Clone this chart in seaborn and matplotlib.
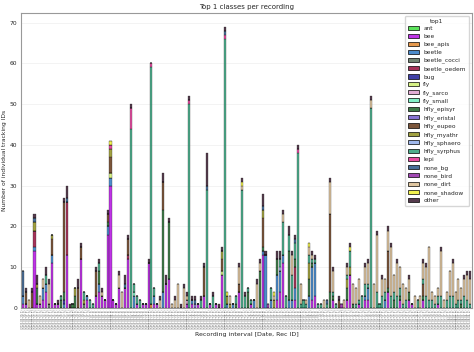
import numpy as np
import pandas as pd
import matplotlib
matplotlib.use("Agg")
import matplotlib.pyplot as plt
import seaborn as sns

# recordings (x axis) - tick labels are unreadable in the reference, so generic ones
rec_dates = list(pd.date_range("2023-05-20", periods=77, freq="D").strftime("%Y-%m-%d"))
recordings = [f"({d}, {r})" for d in rec_dates for r in (1, 2)]

classes = ["ant", "bee", "bee_apis", "beetle", "beetle_cocci", "beetle_oedem", "bug",
           "fly", "fly_sarco", "fly_small", "hfly_episyr", "hfly_eristal", "hfly_eupeo",
           "hfly_myathr", "hfly_sphaero", "hfly_syrphus", "lepi", "none_bg", "none_bird",
           "none_dirt", "none_shadow", "other"]

colors = ["#33dd33", "#b000e0", "#e08020", "#2070c0", "#506850", "#900030", "#101090",
          "#ccee66", "#dd99cc", "#66eebb", "#0d5a1a", "#6a50c8", "#5a2a08",
          "#8a8a10", "#88a8e8", "#209a70", "#e0208a", "#1a4a80", "#8a1aa0",
          "#d8b888", "#eeee22", "#2a0a20"]

# counts per recording, one list per class (154 recordings)
ant = [0] * 154
bee = [1, 1, 0, 0, 14, 1, 1, 2, 4, 0, 11, 1, 1, 0, 0, 13, 0, 0, 0, 0, 12, 0, 2, 0, 0, 3, 4, 3, 2, 18, 30, 2, 1, 5, 0, 5, 12, 0, 0, 1,
       0, 1, 1, 11, 0, 1, 1, 0, 0, 6, 7, 0, 0, 0, 0, 0, 1, 0, 1, 0, 1, 0, 3, 0, 1, 0, 1, 0, 8, 0, 0, 0, 0, 0, 4, 0, 0, 0, 1, 0,
       0, 0, 13, 0, 0, 0, 0, 2, 4, 11, 0, 0, 0, 2, 0, 0, 0, 0, 0, 2, 3, 0, 0, 0, 0, 0, 2, 0, 0, 0, 0, 2, 8, 0, 0, 1, 0, 2, 2, 0,
       0, 0, 0, 0, 0, 4, 0, 0, 0, 2, 0, 0, 2, 1, 0, 0, 0, 2, 0, 0, 0, 0, 1, 0, 0, 0, 0, 0, 0, 0, 0, 0, 0, 0]
bee_apis = [0, 0, 0, 0, 0, 0, 0, 0, 0, 0, 0, 0, 0, 0, 0, 0, 0, 0, 0, 0, 0, 0, 0, 0, 0, 0, 0, 0, 0, 0, 0, 0, 0, 0, 0, 0, 0, 0, 0, 0,
            0, 0, 0, 0, 1, 0, 0, 0, 0, 0, 0, 0, 0, 0, 0, 0, 0, 0, 0, 0, 0, 0, 0, 0, 0, 0, 0, 0, 0, 0, 0, 0, 0, 0, 0, 0, 0, 0, 0, 0,
            0, 0, 0, 0, 0, 0, 0, 0, 0, 0, 0, 0, 0, 0, 0, 0, 0, 0, 0, 0, 0, 0, 0, 0, 0, 0, 0, 0, 0, 0, 0, 0, 0, 0, 0, 0, 0, 0, 0, 0,
            0, 0, 0, 0, 0, 0, 0, 0, 0, 0, 0, 0, 0, 0, 0, 0, 0, 0, 0, 0, 0, 0, 0, 0, 0, 0, 0, 0, 0, 0, 0, 0, 0, 0]
beetle = [2, 0, 0, 0, 1, 0, 0, 3, 2, 0, 2, 0, 0, 0, 1, 0, 0, 0, 0, 0, 0, 0, 1, 0, 0, 0, 2, 0, 0, 2, 2, 0, 0, 0, 0, 0, 0, 0, 3, 0,
          0, 0, 0, 0, 0, 2, 0, 0, 4, 0, 0, 0, 0, 0, 0, 0, 0, 0, 1, 0, 0, 0, 0, 0, 0, 0, 0, 0, 0, 0, 1, 0, 1, 0, 0, 0, 0, 0, 0, 2,
          0, 0, 1, 13, 0, 2, 0, 6, 5, 2, 0, 2, 2, 3, 0, 0, 0, 0, 3, 8, 8, 0, 0, 0, 0, 0, 0, 0, 0, 0, 0, 0, 0, 0, 0, 0, 0, 1, 3, 0,
          0, 0, 0, 0, 2, 0, 0, 0, 0, 0, 0, 0, 0, 0, 0, 0, 0, 0, 0, 0, 0, 0, 0, 0, 0, 0, 0, 0, 0, 0, 0, 0, 0, 0]
beetle_cocci = [0, 0, 0, 0, 0, 0, 0, 0, 0, 1, 0, 0, 0, 0, 0, 0, 0, 0, 0, 0, 0, 1, 0, 0, 0, 0, 0, 0, 0, 0, 0, 0, 0, 0, 0, 0, 0, 0, 0, 0,
                0, 0, 0, 0, 0, 0, 0, 0, 0, 0, 0, 0, 0, 0, 0, 0, 0, 0, 0, 0, 0, 0, 0, 0, 0, 0, 0, 0, 0, 0, 0, 0, 0, 0, 0, 0, 0, 0, 0, 0,
                0, 0, 0, 0, 0, 0, 0, 0, 0, 0, 0, 0, 0, 0, 0, 0, 0, 0, 0, 0, 0, 0, 0, 0, 0, 0, 0, 0, 0, 0, 0, 0, 0, 0, 0, 0, 0, 0, 0, 0,
                0, 0, 0, 0, 0, 0, 0, 0, 0, 0, 0, 0, 0, 0, 0, 0, 0, 0, 0, 0, 0, 0, 0, 0, 0, 0, 0, 0, 0, 0, 0, 0, 0, 0]
beetle_oedem = [0, 0, 0, 0, 4, 0, 0, 0, 0, 0, 0, 0, 0, 0, 0, 13, 0, 0, 0, 0, 0, 0, 0, 0, 0, 0, 0, 0, 0, 0, 0, 0, 0, 0, 0, 0, 1, 0, 0, 0,
                0, 0, 0, 0, 0, 0, 0, 0, 0, 0, 0, 0, 0, 0, 0, 0, 0, 0, 0, 0, 0, 0, 0, 0, 0, 0, 0, 0, 0, 0, 0, 0, 0, 0, 0, 0, 0, 0, 0, 0,
                0, 0, 0, 0, 0, 0, 0, 0, 0, 0, 0, 0, 0, 5, 0, 0, 0, 0, 0, 0, 0, 0, 0, 0, 0, 0, 0, 0, 0, 0, 0, 0, 0, 0, 0, 0, 0, 0, 0, 0,
                0, 0, 0, 0, 0, 0, 0, 0, 0, 0, 0, 0, 0, 0, 0, 0, 0, 0, 0, 0, 0, 0, 0, 0, 0, 0, 0, 0, 0, 0, 0, 0, 0, 0]
bug = [0, 0, 0, 0, 0, 0, 0, 0, 0, 0, 0, 0, 0, 0, 1, 0, 0, 0, 0, 0, 0, 0, 0, 0, 0, 0, 0, 0, 0, 0, 0, 0, 0, 0, 0, 0, 0, 0, 0, 0,
       0, 0, 0, 0, 0, 0, 0, 0, 0, 0, 0, 0, 0, 0, 0, 0, 0, 0, 0, 0, 0, 0, 0, 0, 0, 0, 0, 0, 0, 0, 0, 0, 0, 0, 0, 0, 0, 0, 0, 0,
       0, 0, 0, 0, 0, 0, 0, 0, 0, 0, 0, 0, 0, 0, 0, 0, 0, 0, 0, 0, 0, 0, 0, 0, 0, 0, 0, 0, 0, 0, 0, 0, 0, 0, 0, 0, 0, 0, 0, 0,
       0, 0, 0, 0, 0, 0, 0, 0, 0, 0, 0, 0, 0, 0, 0, 0, 0, 0, 0, 0, 0, 0, 0, 0, 0, 0, 0, 0, 0, 0, 0, 0, 0, 0]
fly = [0, 0, 0, 0, 0, 0, 0, 0, 0, 0, 0, 0, 0, 0, 0, 0, 0, 0, 0, 0, 0, 0, 0, 0, 0, 0, 0, 0, 0, 0, 1, 0, 0, 0, 0, 0, 0, 0, 0, 0,
       0, 0, 0, 0, 0, 0, 0, 0, 0, 0, 0, 0, 0, 0, 0, 0, 0, 0, 0, 0, 0, 0, 0, 0, 0, 0, 0, 0, 1, 0, 0, 0, 0, 0, 0, 0, 0, 0, 0, 0,
       0, 0, 0, 0, 0, 0, 0, 0, 0, 0, 0, 0, 0, 0, 0, 0, 0, 0, 0, 0, 0, 0, 0, 0, 0, 0, 0, 0, 0, 0, 0, 0, 0, 0, 0, 0, 0, 0, 0, 0,
       0, 0, 0, 0, 0, 0, 0, 0, 0, 0, 0, 0, 0, 0, 0, 0, 0, 0, 0, 0, 0, 0, 0, 0, 0, 0, 0, 0, 0, 0, 0, 0, 0, 0]
fly_sarco = [0, 0, 0, 0, 0, 0, 0, 0, 0, 0, 0, 0, 0, 0, 0, 0, 0, 0, 0, 0, 0, 0, 0, 0, 0, 0, 0, 0, 0, 0, 0, 0, 0, 0, 0, 0, 0, 0, 0, 0,
             0, 0, 0, 0, 0, 0, 0, 0, 0, 0, 0, 0, 0, 0, 0, 0, 1, 0, 0, 0, 0, 0, 0, 0, 0, 0, 0, 0, 0, 0, 0, 0, 0, 0, 0, 0, 0, 0, 0, 0,
             0, 0, 0, 0, 0, 0, 0, 0, 0, 0, 0, 0, 0, 0, 0, 0, 0, 0, 0, 0, 0, 0, 0, 0, 0, 0, 0, 0, 0, 0, 0, 0, 0, 0, 0, 0, 0, 0, 0, 0,
             0, 0, 0, 0, 0, 0, 0, 0, 0, 0, 0, 0, 0, 0, 0, 0, 0, 0, 0, 0, 0, 0, 0, 0, 0, 0, 0, 0, 0, 0, 0, 0, 0, 0]
fly_small = [0, 0, 0, 0, 0, 0, 0, 0, 0, 0, 0, 0, 0, 0, 0, 0, 0, 0, 0, 0, 0, 0, 0, 0, 0, 0, 0, 0, 0, 0, 0, 0, 0, 0, 0, 0, 0, 0, 1, 0,
             0, 0, 0, 0, 0, 0, 0, 0, 0, 0, 0, 0, 0, 0, 0, 0, 0, 0, 0, 0, 0, 0, 0, 0, 0, 0, 0, 0, 0, 0, 0, 0, 0, 0, 0, 0, 0, 0, 0, 0,
             0, 0, 0, 0, 0, 0, 0, 0, 0, 0, 0, 0, 0, 0, 0, 0, 0, 0, 0, 0, 0, 0, 0, 0, 0, 0, 0, 0, 0, 0, 0, 0, 0, 0, 0, 0, 0, 0, 0, 0,
             0, 0, 0, 0, 0, 0, 0, 0, 0, 0, 0, 0, 0, 0, 0, 0, 0, 0, 0, 0, 0, 0, 0, 0, 0, 0, 0, 0, 0, 0, 0, 0, 0, 0]
hfly_episyr = [0, 0, 0, 0, 0, 4, 0, 0, 0, 0, 0, 0, 0, 2, 2, 0, 0, 1, 3, 0, 0, 0, 0, 0, 0, 0, 3, 0, 0, 1, 0, 0, 0, 0, 0, 0, 0, 0, 0, 0,
               0, 0, 0, 0, 0, 0, 0, 0, 20, 0, 14, 0, 0, 0, 0, 0, 0, 0, 0, 0, 0, 0, 0, 0, 0, 0, 0, 0, 0, 0, 0, 0, 0, 1, 0, 0, 0, 4, 0, 0,
               0, 9, 1, 0, 0, 0, 0, 4, 0, 0, 0, 12, 0, 2, 0, 0, 0, 0, 4, 1, 0, 0, 0, 0, 0, 4, 1, 0, 0, 0, 0, 3, 0, 1, 0, 0, 0, 0, 0, 0,
               0, 0, 0, 0, 0, 1, 0, 2, 0, 1, 0, 0, 2, 0, 0, 0, 0, 1, 0, 0, 0, 0, 0, 0, 0, 0, 0, 0, 0, 0, 1, 0, 0, 0]
hfly_eristal = [0, 0, 0, 0, 0, 0, 0, 0, 0, 0, 0, 0, 0, 0, 0, 0, 0, 0, 0, 0, 0, 0, 0, 0, 0, 0, 0, 0, 0, 0, 0, 0, 0, 0, 0, 0, 0, 0, 0, 0,
                0, 0, 0, 0, 0, 0, 0, 0, 0, 0, 0, 0, 0, 0, 0, 0, 0, 0, 0, 1, 0, 0, 0, 0, 0, 0, 0, 0, 0, 0, 0, 0, 0, 0, 0, 0, 0, 0, 0, 0,
                0, 0, 0, 0, 0, 0, 0, 0, 0, 0, 0, 0, 0, 0, 0, 0, 0, 0, 0, 0, 0, 0, 0, 0, 0, 0, 0, 0, 0, 0, 0, 0, 0, 0, 0, 0, 0, 0, 0, 0,
                0, 0, 0, 0, 0, 0, 0, 0, 0, 0, 0, 0, 0, 0, 0, 0, 0, 0, 0, 0, 0, 0, 0, 0, 0, 0, 0, 0, 0, 0, 0, 0, 0, 0]
hfly_eupeo = [0, 3, 0, 4, 0, 0, 0, 0, 0, 0, 4, 0, 0, 0, 22, 0, 0, 0, 0, 5, 3, 0, 0, 0, 0, 6, 0, 0, 0, 2, 4, 0, 0, 0, 0, 0, 4, 0, 0, 0,
              0, 0, 0, 0, 0, 0, 0, 0, 7, 0, 0, 0, 0, 0, 0, 0, 0, 0, 0, 0, 0, 0, 7, 0, 0, 0, 0, 0, 3, 0, 0, 0, 0, 0, 2, 0, 0, 0, 0, 0,
              0, 0, 7, 0, 0, 0, 0, 0, 0, 0, 0, 0, 0, 0, 0, 0, 0, 0, 0, 0, 0, 0, 0, 0, 0, 19, 0, 0, 2, 0, 0, 0, 0, 0, 0, 0, 0, 0, 0, 0,
              0, 0, 0, 0, 0, 9, 0, 0, 0, 0, 0, 0, 0, 0, 0, 0, 0, 3, 0, 0, 0, 0, 0, 0, 0, 0, 0, 0, 0, 0, 0, 0, 0, 0]
hfly_myathr = [0, 0, 0, 0, 2, 1, 0, 0, 0, 0, 1, 0, 0, 0, 0, 0, 0, 0, 2, 0, 0, 1, 0, 0, 0, 0, 0, 0, 0, 0, 2, 0, 0, 0, 0, 0, 0, 0, 0, 0,
               0, 0, 0, 0, 0, 0, 0, 0, 0, 0, 0, 0, 0, 0, 0, 0, 0, 0, 0, 0, 0, 0, 0, 0, 0, 0, 0, 0, 2, 0, 2, 1, 0, 0, 0, 0, 0, 0, 0, 0,
               0, 0, 2, 0, 0, 0, 2, 0, 0, 0, 0, 0, 0, 0, 0, 0, 0, 0, 4, 0, 0, 0, 0, 0, 0, 0, 0, 0, 0, 0, 0, 2, 2, 0, 0, 0, 0, 0, 0, 0,
               0, 0, 0, 0, 0, 0, 0, 0, 0, 0, 0, 0, 0, 0, 0, 0, 0, 0, 0, 0, 0, 0, 0, 0, 0, 0, 0, 0, 0, 0, 0, 0, 0, 0]
hfly_sphaero = [0, 0, 0, 0, 0, 0, 0, 0, 0, 0, 0, 0, 0, 0, 0, 0, 0, 0, 0, 0, 0, 0, 0, 0, 0, 0, 0, 0, 0, 0, 0, 0, 0, 0, 0, 0, 0, 0, 0, 0,
                0, 0, 0, 0, 0, 0, 0, 0, 0, 0, 0, 0, 0, 0, 0, 0, 0, 0, 0, 0, 0, 0, 0, 0, 0, 0, 0, 0, 0, 0, 0, 0, 0, 0, 0, 0, 0, 0, 0, 0,
                0, 0, 0, 0, 0, 0, 0, 0, 1, 0, 0, 0, 0, 0, 0, 0, 0, 0, 0, 0, 0, 0, 0, 0, 0, 0, 0, 0, 0, 0, 0, 0, 0, 0, 0, 0, 0, 0, 0, 0,
                0, 0, 0, 0, 0, 0, 0, 0, 0, 0, 0, 0, 0, 0, 0, 0, 0, 0, 0, 0, 0, 0, 0, 0, 0, 0, 0, 0, 0, 0, 0, 0, 0, 0]
hfly_syrphus = [0, 0, 0, 0, 0, 0, 0, 0, 2, 0, 0, 0, 0, 1, 0, 0, 0, 0, 0, 0, 0, 2, 0, 2, 1, 0, 2, 0, 0, 0, 0, 0, 0, 0, 0, 0, 0, 44, 2, 2,
                2, 0, 0, 0, 58, 2, 0, 0, 0, 0, 0, 0, 0, 0, 0, 0, 0, 50, 0, 0, 0, 2, 0, 29, 0, 3, 0, 0, 0, 66, 0, 0, 0, 2, 0, 29, 3, 1, 1, 0,
                0, 0, 0, 0, 0, 3, 0, 0, 2, 8, 3, 4, 6, 4, 38, 1, 2, 1, 2, 1, 1, 1, 1, 0, 1, 0, 1, 1, 0, 0, 0, 1, 4, 0, 1, 1, 3, 3, 1, 49,
                0, 4, 1, 3, 2, 0, 3, 2, 3, 2, 1, 2, 0, 0, 0, 2, 0, 1, 3, 2, 2, 1, 2, 3, 0, 2, 3, 3, 1, 2, 1, 3, 2, 1]
lepi = [0, 0, 0, 0, 0, 0, 0, 0, 0, 0, 0, 0, 0, 0, 0, 0, 0, 0, 0, 0, 0, 0, 0, 0, 0, 0, 0, 0, 0, 0, 1, 0, 0, 0, 0, 0, 0, 5, 0, 0,
        0, 0, 0, 0, 1, 0, 0, 0, 0, 0, 0, 0, 0, 0, 0, 0, 0, 1, 0, 0, 0, 0, 0, 0, 0, 0, 0, 0, 0, 1, 0, 0, 0, 0, 0, 0, 0, 0, 0, 0,
        0, 0, 0, 0, 0, 0, 0, 0, 0, 0, 0, 0, 0, 0, 1, 0, 0, 0, 0, 0, 0, 0, 0, 0, 0, 0, 0, 0, 0, 0, 0, 0, 0, 0, 0, 0, 0, 0, 0, 0,
        0, 0, 0, 0, 0, 0, 0, 0, 0, 0, 0, 0, 0, 0, 0, 0, 0, 0, 0, 0, 0, 0, 0, 0, 0, 0, 0, 0, 0, 0, 0, 0, 0, 0]
none_bg = [6, 0, 0, 0, 1, 0, 0, 0, 0, 0, 0, 0, 0, 0, 0, 1, 0, 0, 0, 0, 0, 0, 0, 0, 0, 0, 0, 0, 0, 0, 0, 0, 0, 0, 0, 1, 0, 0, 0, 0,
           0, 0, 0, 0, 0, 0, 0, 0, 0, 0, 0, 0, 0, 0, 0, 0, 0, 0, 0, 1, 0, 0, 0, 1, 0, 0, 0, 0, 0, 1, 0, 0, 0, 0, 0, 0, 0, 0, 0, 0,
           0, 0, 1, 0, 0, 0, 0, 0, 0, 0, 0, 0, 0, 1, 0, 0, 0, 0, 0, 0, 0, 0, 0, 0, 1, 0, 0, 0, 0, 0, 0, 0, 0, 0, 0, 0, 0, 0, 0, 0,
           0, 0, 0, 0, 0, 0, 0, 0, 0, 0, 0, 0, 0, 0, 0, 0, 0, 0, 0, 0, 0, 0, 0, 0, 0, 0, 0, 0, 0, 0, 0, 0, 0, 0]
none_bird = [0, 0, 0, 0, 0, 0, 0, 0, 0, 0, 0, 0, 0, 0, 0, 0, 0, 0, 0, 0, 0, 0, 0, 0, 0, 0, 0, 0, 0, 0, 0, 0, 0, 0, 0, 0, 0, 0, 0, 0,
             0, 0, 0, 0, 0, 0, 0, 0, 0, 0, 0, 0, 0, 0, 0, 0, 0, 0, 0, 0, 0, 0, 0, 0, 0, 0, 0, 0, 0, 0, 0, 0, 0, 0, 0, 0, 0, 0, 0, 0,
             0, 0, 0, 0, 1, 0, 0, 0, 0, 0, 0, 0, 0, 0, 0, 0, 0, 0, 0, 0, 0, 0, 0, 0, 0, 0, 0, 0, 0, 1, 0, 0, 0, 0, 0, 0, 0, 0, 0, 0,
             0, 0, 0, 0, 0, 0, 0, 0, 0, 0, 0, 0, 0, 0, 0, 0, 0, 0, 0, 0, 0, 0, 0, 0, 0, 0, 0, 0, 0, 0, 0, 0, 0, 0]
none_dirt = [0, 0, 2, 0, 0, 0, 2, 2, 0, 5, 0, 0, 0, 0, 0, 0, 0, 0, 0, 0, 0, 0, 0, 0, 0, 0, 0, 1, 0, 0, 0, 0, 0, 3, 4, 0, 0, 0, 0, 0,
             0, 0, 0, 0, 0, 0, 0, 2, 0, 0, 0, 1, 2, 6, 0, 5, 1, 0, 0, 0, 0, 0, 0, 0, 0, 0, 0, 0, 0, 0, 0, 2, 0, 0, 4, 1, 0, 0, 0, 0,
             6, 2, 0, 0, 0, 0, 1, 0, 0, 2, 0, 0, 5, 0, 0, 5, 0, 1, 2, 1, 0, 0, 0, 2, 0, 8, 5, 0, 0, 0, 2, 2, 0, 5, 4, 5, 0, 4, 5, 2,
             6, 14, 0, 4, 3, 5, 12, 4, 8, 5, 5, 3, 3, 0, 3, 0, 3, 4, 7, 13, 2, 2, 2, 11, 2, 2, 6, 8, 3, 5, 3, 4, 6, 6]
none_shadow = [0, 0, 0, 0, 0, 0, 0, 0, 0, 0, 0, 0, 0, 0, 0, 0, 0, 0, 0, 0, 0, 0, 0, 0, 0, 0, 0, 0, 0, 0, 1, 0, 0, 0, 0, 0, 0, 0, 0, 0,
               0, 0, 0, 0, 0, 0, 0, 0, 0, 0, 0, 0, 0, 0, 0, 0, 0, 0, 0, 0, 0, 0, 0, 0, 0, 0, 0, 0, 0, 0, 1, 0, 0, 0, 0, 1, 0, 0, 0, 0,
               0, 0, 0, 0, 0, 0, 1, 0, 0, 0, 0, 0, 0, 0, 0, 0, 0, 0, 1, 0, 0, 0, 0, 0, 0, 0, 0, 0, 0, 0, 0, 0, 1, 0, 0, 0, 0, 0, 0, 0,
               0, 0, 0, 0, 0, 0, 0, 0, 0, 0, 0, 0, 0, 0, 0, 0, 0, 0, 0, 0, 0, 0, 0, 0, 0, 0, 0, 0, 0, 0, 0, 0, 0, 0]
other = [0, 1, 0, 1, 1, 2, 0, 0, 2, 1, 0, 0, 1, 0, 1, 3, 1, 0, 0, 2, 1, 0, 0, 0, 0, 1, 1, 1, 0, 1, 0, 0, 0, 1, 0, 2, 1, 1, 0, 0,
         0, 0, 0, 1, 0, 0, 0, 1, 2, 2, 1, 0, 1, 0, 1, 1, 1, 1, 1, 1, 0, 1, 1, 8, 0, 1, 0, 1, 1, 1, 0, 0, 0, 0, 1, 1, 1, 0, 0, 0,
         1, 1, 3, 1, 0, 0, 0, 2, 2, 1, 0, 2, 1, 1, 1, 0, 0, 0, 0, 1, 1, 0, 0, 0, 0, 1, 1, 0, 1, 0, 0, 1, 1, 0, 0, 0, 0, 1, 1, 1,
         0, 1, 0, 1, 0, 1, 1, 0, 1, 0, 0, 0, 1, 0, 0, 0, 0, 1, 1, 0, 0, 0, 0, 1, 0, 0, 0, 1, 0, 0, 0, 1, 1, 2]

series = [ant, bee, bee_apis, beetle, beetle_cocci, beetle_oedem, bug, fly, fly_sarco,
          fly_small, hfly_episyr, hfly_eristal, hfly_eupeo, hfly_myathr, hfly_sphaero,
          hfly_syrphus, lepi, none_bg, none_bird, none_dirt, none_shadow, other]
for s in series:
    assert len(s) == len(recordings)

wide = pd.DataFrame(dict(zip(classes, series)))
wide["recording"] = recordings
df = wide.melt(id_vars="recording", var_name="top1", value_name="n")

sns.set_style("white")
fig, ax = plt.subplots(figsize=(4.74, 3.52), dpi=100)
fig.subplots_adjust(left=0.045, right=0.995, top=0.964, bottom=0.125)

# seaborn stacks first hue level on top -> reverse so "ant" sits at the bottom
sns.histplot(data=df, x="recording", weights="n", hue="top1", hue_order=classes[::-1],
             palette=dict(zip(classes, colors)), multiple="stack", discrete=True,
             shrink=0.7, edgecolor="#222222", linewidth=0.2, alpha=0.8, ax=ax)

ax.set_xlim(-0.5, len(recordings) - 0.5)
ax.grid(axis="y", color="#eeeeee", linewidth=0.5)
ax.set_axisbelow(True)
ax.set_xticks(range(len(recordings)))
ax.set_xticklabels(recordings, rotation=90, fontsize=1.8, color="#555555")
ax.tick_params(axis="x", length=0, pad=1)
ax.tick_params(axis="y", labelsize=4.3, length=2, width=0.5, pad=1)
for sp in ax.spines.values():
    sp.set_color("#999999")
    sp.set_linewidth(0.8)

ax.set_title("Top 1 classes per recording", fontsize=5, pad=3)
ax.set_xlabel("Recording interval [Date, Rec ID]", fontsize=4.5, labelpad=2)
ax.set_ylabel("Number of individual tracking IDs", fontsize=4.3, labelpad=2)

# rebuild legend in original class order (ant on top)
old = ax.get_legend()
handles = old.legend_handles[::-1]
labels = [t.get_text() for t in old.get_texts()][::-1]
old.remove()
leg = ax.legend(handles, labels, title="top1", loc="upper right", fontsize=4.2, title_fontsize=4.2,
                labelspacing=0.45, handlelength=1.8, handleheight=0.7, borderpad=0.5,
                frameon=True, edgecolor="#cccccc")
for h in leg.legend_handles:
    h.set_edgecolor("black")
    h.set_linewidth(0.5)

fig.savefig("out.png", dpi=100)
